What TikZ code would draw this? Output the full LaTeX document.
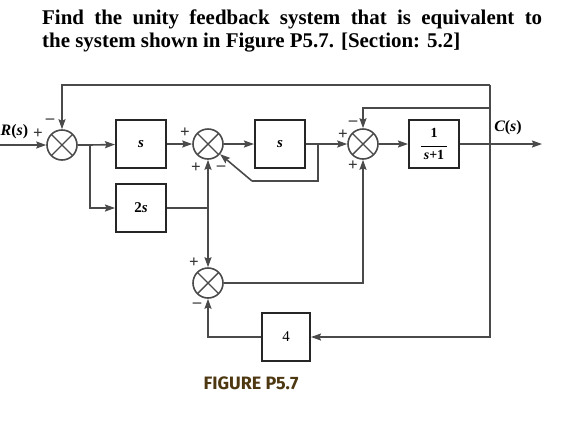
\documentclass[tikz,border=0pt]{standalone}
\usepackage{fontspec}
\setmainfont{Liberation Serif}
\newfontfamily\figfont{Fira Sans}
\usetikzlibrary{arrows.meta}
\definecolor{linegray}{HTML}{4A4A4A}
\definecolor{figbrown}{HTML}{4E3812}
\begin{document}
\begin{tikzpicture}[x=1bp,y=-1bp,
  sig/.style={draw=linegray,line width=1.6bp},
  arr/.style={sig,-{Stealth[length=10bp,width=7bp,inset=1.5bp]}},
  blk/.style={draw=black!85,line width=2bp,minimum width=50bp,minimum height=48bp,inner sep=0pt,font=\bfseries\fontsize{15}{15}\selectfont},
  sumj/.style={draw=linegray,line width=1.6bp,circle,minimum size=30bp,inner sep=0pt,
    path picture={\draw[linegray,line width=1.4bp]
      (path picture bounding box.north west)--(path picture bounding box.south east)
      (path picture bounding box.north east)--(path picture bounding box.south west);}},
  sgn/.style={font=\bfseries\fontsize{17}{17}\selectfont,inner sep=0pt,text=black!80},
  lbl/.style={font=\bfseries\fontsize{16}{16}\selectfont,inner sep=0pt}]
\useasboundingbox (0,0) rectangle (584,422);

% title
\node[anchor=north west,text width=500bp,align=justify,inner sep=0pt,
  font=\bfseries\fontsize{21}{22.5}\selectfont] (title) at (42,10)
  {Find the unity feedback system that is equivalent to\linebreak the system shown in Figure P5.7. [Section: 5.2]};

% summing junctions
\node[sumj] (s1) at (62,145) {};
\node[sumj] (s2) at (208,144) {};
\node[sumj] (s3) at (363,144) {};
\node[sumj] (s4) at (208,283) {};

% blocks
\node[blk] (b1) at (141,144) {\itshape s};
\node[blk] (b2) at (141,208) {2\itshape s};
\node[blk] (b3) at (280,144) {\itshape s};
\node[blk,align=center,font=\bfseries\fontsize{14}{14}\selectfont] (b4) at (434,144)
  {1\\[-5bp]\rule{26bp}{0.9bp}\\[-1bp]{\itshape s}+1};
\node[blk,minimum width=48bp,font=\fontsize{15}{15}\selectfont] (b5) at (286,337) {4};

% helper coordinates
\coordinate (rin) at (-2,145);
\coordinate (cout) at (542,144);
\coordinate (j1) at (90,145);
\coordinate (j2) at (208,208);
\coordinate (j3) at (318,144);
\coordinate (j4) at (490,144);
\coordinate (d1) at (318,181);
\coordinate (d2) at (252,181);
\coordinate (t1) at (490,85);
\coordinate (t2) at (62,85);
\coordinate (t3) at (490,108);
\coordinate (t4) at (363,108);
\coordinate (q1) at (490,337);
\coordinate (q2) at (208,337);
\coordinate (q3) at (363,283);

% labels
\node[lbl,anchor=west] (R) at (0.5,132) {\itshape R\upshape(\itshape s\upshape)};
\node[lbl] (C) at (508,128) {\itshape C\upshape(\itshape s\upshape)};
\node[font=\figfont\bfseries\fontsize{18}{18}\selectfont,text=figbrown,inner sep=0pt] (fig) at (251,383) {FIGURE P5.7};

% signals
\draw[arr] (rin) -- (s1);
\draw[sig] (s1) -- (j1);
\draw[arr] (j1) -- (b1);
\draw[arr] (j1) |- (b2);
\draw[arr] (b1) -- (s2);
\draw[arr] (s2) -- (b3);
\draw[sig] (b3) -- (j3);
\draw[arr] (j3) -- (s3);
\draw[sig] (j3) -- (d1) -- (d2);
\draw[arr] (d2) -- (s2);
\draw[arr] (s3) -- (b4);
\draw[arr] (b4) -- (cout);
\draw[sig] (b2) -- (j2);
\draw[arr] (j2) -- (s2);
\draw[arr] (j2) -- (s4);
\draw[sig] (j4) -- (t1);
\draw[arr] (t1) -- (t2) -- (s1);
\draw[arr] (t3) -- (t4) -- (s3);
\draw[arr] (t1) -- (q1) -- (b5);
\draw[arr] (b5) -- (q2) -- (s4);
\draw[arr] (s4) -- (q3) -- (s3);

% signs
\node[sgn] (p1a) at (38,134) {+};
\node[sgn] (p1b) at (50,121) {–};
\node[sgn] (p2a) at (185,133) {+};
\node[sgn] (p2b) at (196,168) {+};
\node[sgn] (p2c) at (221,168) {–};
\node[sgn] (p3a) at (343,135) {+};
\node[sgn] (p3b) at (353,123) {–};
\node[sgn] (p3c) at (353,166) {+};
\node[sgn] (p4a) at (194,263) {+};
\node[sgn] (p4b) at (197,305) {–};
\end{tikzpicture}
\end{document}
